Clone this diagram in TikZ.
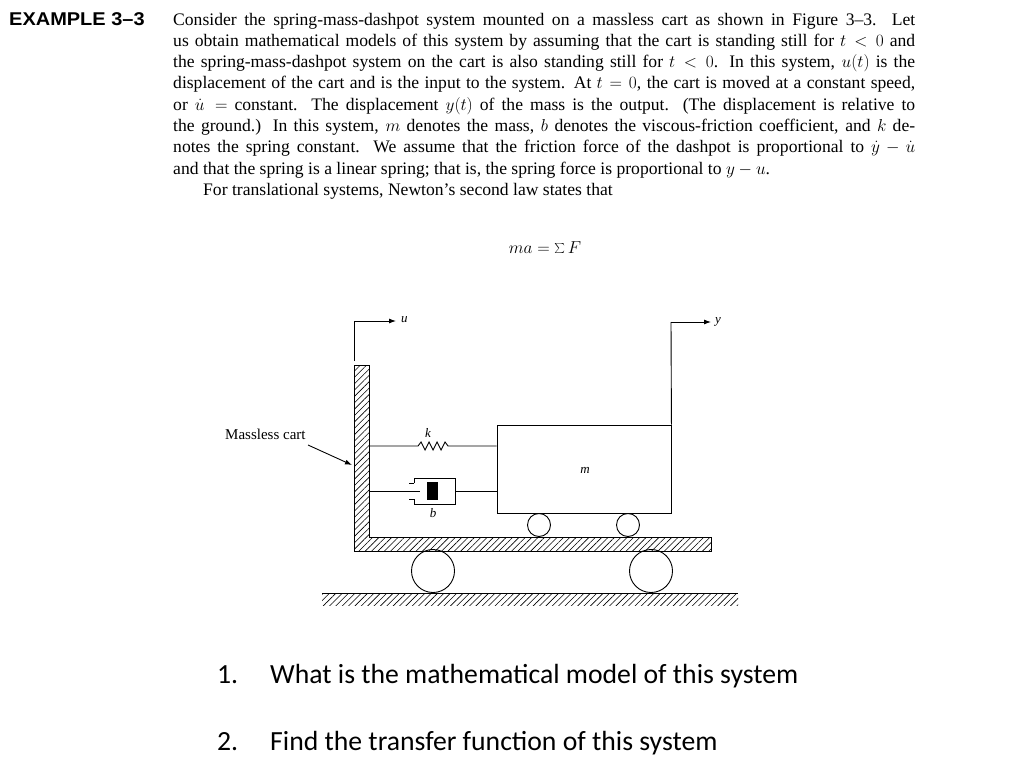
\documentclass[tikz,border=0pt]{standalone}
\usepackage{fontspec}
\setmainfont{Liberation Serif}
\newfontfamily\qfont{Carlito}
\newfontfamily\hfont{Liberation Sans}
\usetikzlibrary{patterns.meta,arrows.meta}
\begin{document}
\begin{tikzpicture}[x=1pt,y=-1pt,
  txt/.style={anchor=base west,inner sep=0pt,font=\fontsize{17.6}{18}\selectfont},
  lab/.style={inner sep=1pt,font=\fontsize{13}{14}\selectfont\itshape},
  hatch/.style={draw,line width=0.9pt,pattern={Lines[angle=45,distance=4.5pt,line width=0.6pt]}},
  ln/.style={line width=0.9pt},
  arr/.style={ln,-{Latex[length=7pt,width=5pt]}},
  qst/.style={anchor=base west,inner sep=0pt,font=\qfont\fontsize{27.7}{28}\selectfont}]
\useasboundingbox (0,0) rectangle (1009,770);
% text
\node[anchor=base west,inner sep=0pt,font=\hfont\bfseries\fontsize{18.5}{20}\selectfont] (ex) at (9,26) {\scalebox{1.08}[1]{EXAMPLE 3–3}};
\node[txt] (l1) at (173,26) {\makebox[742pt][s]{Consider the spring-mass-dashpot system mounted on a massless cart as shown in Figure 3–3. Let}};
\node[txt] (l2) at (173,47) {\makebox[742pt][s]{us obtain mathematical models of this system by assuming that the cart is standing still for $t<0$ and}};
\node[txt] (l3) at (173,68) {\makebox[742pt][s]{the spring-mass-dashpot system on the cart is also standing still for $t<0$. In this system, $u(t)$ is the}};
\node[txt] (l4) at (173,89) {\makebox[742pt][s]{displacement of the cart and is the input to the system. At $t=0$, the cart is moved at a constant speed,}};
\node[txt] (l5) at (173,111) {\makebox[742pt][s]{or $\dot u=$ constant. The displacement $y(t)$ of the mass is the output. (The displacement is relative to}};
\node[txt] (l6) at (173,132) {\makebox[742pt][s]{the ground.) In this system, $m$ denotes the mass, $b$ denotes the viscous-friction coefficient, and $k$ de-}};
\node[txt] (l7) at (173,153) {\makebox[742pt][s]{notes the spring constant. We assume that the friction force of the dashpot is proportional to $\dot y-\dot u$}};
\node[txt] (l8) at (173,175) {and that the spring is a linear spring; that is, the spring force is proportional to $y-u$.};
\node[txt] (l9) at (203,196) {For translational systems, Newton’s second law states that};
\node[txt,anchor=base] (eq) at (545,253) {$ma=\sum F$};
% diagram
\draw[hatch] (354,365) -- (369,365) -- (369,537) -- (711,537) -- (711,551) -- (354,551) -- cycle;
\draw[ln] (354,361) -- (354,321) coordinate (ut);
\coordinate (uh) at (396,321);
\draw[arr] (ut) -- (uh);
\node[lab,anchor=west] (u) at (400,320) {u};
\node[draw,ln,minimum width=174pt,minimum height=88pt,inner sep=0pt] (m) at (584,469) {};
\node[lab] (mlab) at (585,470) {m};
\draw[ln] (m.north east) -- (671,322) coordinate (yt);
\coordinate (yh) at (711,322);
\draw[arr] (yt) -- (yh);
\node[lab,anchor=west] (ylab) at (714,322) {y};
% spring
\draw[ln] (369,446) -- (418,446) -- (421,442) -- (425,450) -- (429,442) -- (433,450) -- (437,442) -- (441,450) -- (445,442) -- (448,446) -- (m.west |- 0,446);
\node[lab] (k) at (428,433) {k};
% dashpot
\draw[ln] (369,491) -- (420,491);
\draw[ln] (414,483) -- (414,478) -- (455,478) -- (455,504) -- (414,504) -- (414,499);
\draw[ln] (414,483) -- (409,483); \draw[ln] (414,499) -- (409,499);
\fill (427,482) rectangle (438,500);
\draw[ln] (455,491) -- (m.west |- 0,491);
\node[lab] (b) at (433,513) {b};
% wheels
\draw[ln] (539,525) circle (11.5);
\draw[ln] (628,525) circle (11.5);
\draw[ln] (433,571) circle (21.5);
\draw[ln] (651,571) circle (21.5);
% ground
\fill[pattern={Lines[angle=45,distance=4.5pt,line width=0.6pt]}] (322,593) rectangle (738,605);
\draw[ln] (322,593) -- (738,593);
% label
\node[anchor=base west,inner sep=0pt,font=\fontsize{15}{16}\selectfont] (mc) at (225,439) {Massless cart};
\draw[ln,-{Latex[length=7pt,width=5pt]}] (308,445) -- (352,465);
% questions
\node[qst] (q1n) at (217,683) {1.};
\node[qst] (q1) at (270,683) {What is the mathematical model of this system};
\node[qst] (q2n) at (217,750) {2.};
\node[qst] (q2) at (270,750) {Find the transfer function of this system};
\end{tikzpicture}
\end{document}
